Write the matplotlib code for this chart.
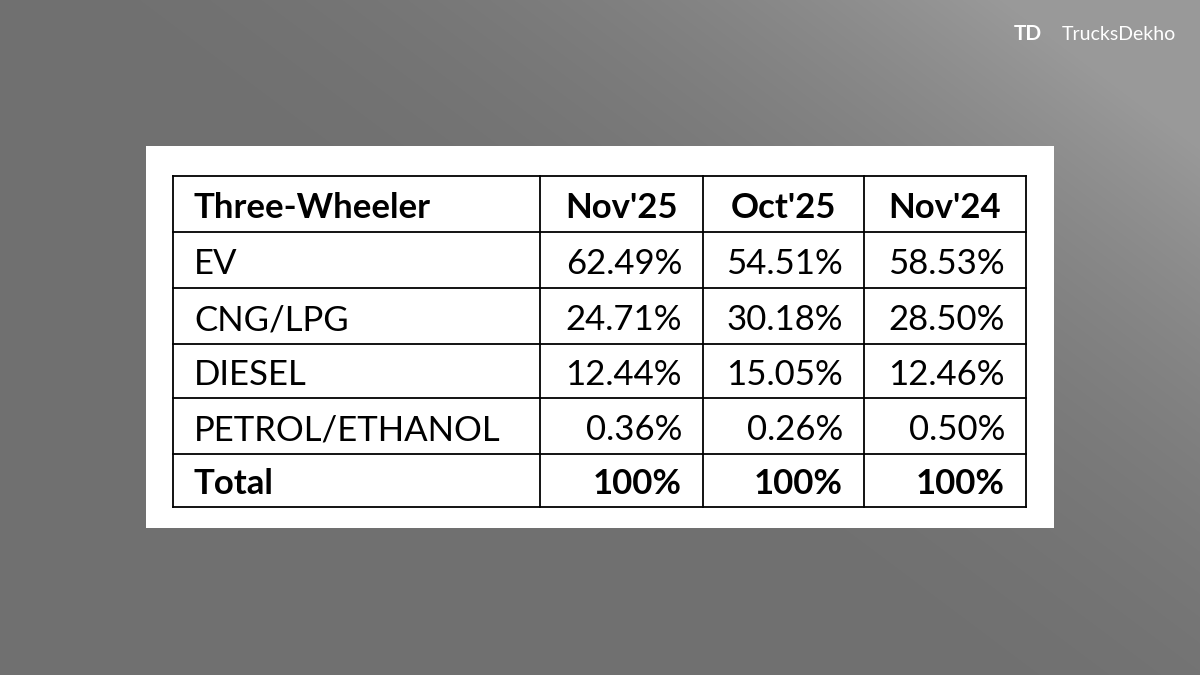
import numpy as np
import matplotlib
matplotlib.use("Agg")
import matplotlib.pyplot as plt
from matplotlib.patches import Rectangle

header = ["Three-Wheeler", "Nov'25", "Oct'25", "Nov'24"]
categories = ["EV", "CNG/LPG", "DIESEL", "PETROL/ETHANOL"]
nov25 = ["62.49%", "24.71%", "12.44%", "0.36%"]
oct25 = ["54.51%", "30.18%", "15.05%", "0.26%"]
nov24 = ["58.53%", "28.50%", "12.46%", "0.50%"]
total = ["Total", "100%", "100%", "100%"]

fig = plt.figure(figsize=(12, 6.75), dpi=100)
ax = fig.add_axes([0, 0, 1, 1])
ax.set_xlim(0, 1200); ax.set_ylim(675, 0); ax.axis("off")

# background gradient
yy, xx = np.mgrid[0:675, 0:1200]
g = 0.44 + 0.16 * np.clip((xx / 1200) * 1.2 - yy / 675 * 0.9, 0, 1) ** 2
ax.imshow(np.dstack([g, g, g]), extent=(0, 1200, 675, 0), zorder=0)

ax.add_patch(Rectangle((146, 146), 908, 382, facecolor="white", zorder=1))

cols = [173, 540, 703, 864, 1026]
rows = [176, 232, 288, 344, 398, 454, 507]
for x in cols:
    ax.plot([x, x], [rows[0], rows[-1]], color="black", lw=1.3, zorder=3)
for y in rows:
    ax.plot([cols[0], cols[-1]], [y, y], color="black", lw=1.3, zorder=3)

table = [header] + [[c, a, b, d] for c, a, b, d in zip(categories, nov25, oct25, nov24)] + [total]
fs = 25
for r, row in enumerate(table):
    yc = (rows[r] + rows[r + 1]) / 2
    bold = r == 0 or r == len(table) - 1
    for c, txt in enumerate(row):
        if c == 0:
            x, ha = cols[0] + 21, "left"
        elif r == 0:
            x, ha = (cols[c] + cols[c + 1]) / 2, "center"
        else:
            x, ha = cols[c + 1] - 21, "right"
        ax.text(x, yc + 4, txt, ha=ha, va="center", fontsize=fs, family="Lato",
                fontweight="bold" if bold else "normal", color="black", zorder=4)

ax.text(1176, 34, "TrucksDekho", ha="right", va="center", fontsize=14,
        family="Lato", color="white", zorder=4)
ax.text(1014, 34, "TD", ha="left", va="center", fontsize=15, family="Lato",
        fontweight="bold", color="white", zorder=4)

fig.savefig("out.png", dpi=100)
